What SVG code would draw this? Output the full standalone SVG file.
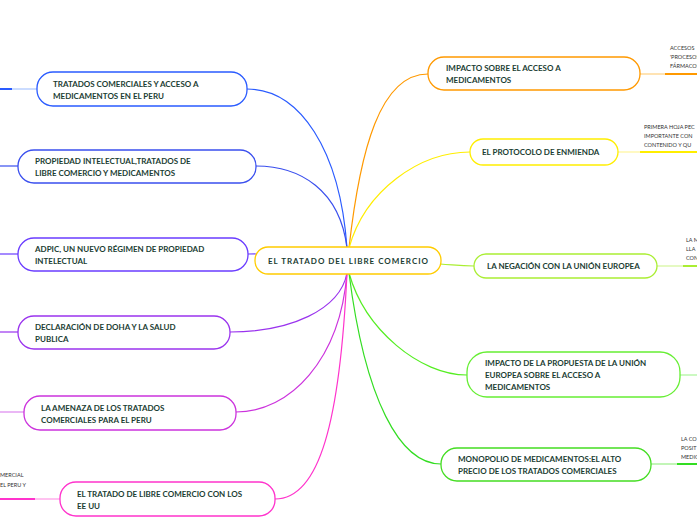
<svg xmlns="http://www.w3.org/2000/svg" width="697" height="520" viewBox="0 0 697 520">
<style>
.n{fill:#fff;stroke-width:1.3}
.t{font-family:Lato,"Liberation Sans",sans-serif;font-weight:bold;font-size:8px;fill:#1b3d33}
.s{font-family:Lato,"Liberation Sans",sans-serif;font-size:5.5px;fill:#333}
.c{fill:none;stroke-width:1.2}
</style>
<rect width="697" height="520" fill="#fff"/>
<g id="connectors">
<path class="c" stroke="#2a5bff" d="M347,248 C340,150 300,89 247,89"/>
<path class="c" stroke="#3a4fee" d="M347,248 C340,190 300,166 256,166"/>
<path class="c" stroke="#6a3cff" d="M347,250 C330,252 280,254 248,254"/>
<path class="c" stroke="#9a33ee" d="M347,273 C340,310 290,332 230,332"/>
<path class="c" stroke="#cc33dd" d="M347,273 C340,360 290,412 236,412"/>
<path class="c" stroke="#ff33cc" d="M347,273 C340,420 320,499 275,499"/>
<path class="c" stroke="#ff9900" d="M349,248 C360,150 380,74 428,74"/>
<path class="c" stroke="#ffee00" d="M349,248 C365,190 420,152 470,152"/>
<path class="c" stroke="#aaee33" d="M440,264 C455,265 460,266 474,266"/>
<path class="c" stroke="#55ee22" d="M349,273 C365,330 420,375 467,375"/>
<path class="c" stroke="#33dd22" d="M349,273 C365,400 400,464 441,464"/>
<path stroke="#a8c4ff" stroke-width="1.2" d="M12,89H37"/><path stroke="#2a5bff" stroke-width="2" d="M0,89H12"/>
<path stroke="#3a4fee" stroke-width="1.2" d="M0,166H18"/>
<path stroke="#6a3cff" stroke-width="1.2" d="M0,254H18"/>
<path stroke="#9a33ee" stroke-width="1.2" d="M0,332H18"/>
<path stroke="#dd88ee" stroke-width="1.2" d="M0,412H24"/>
<path stroke="#ff99e6" stroke-width="1.2" d="M35,499H60"/><path stroke="#ff33cc" stroke-width="2" d="M0,499H35"/>
<path stroke="#ffd080" stroke-width="1.2" d="M640,74H665"/><path stroke="#ff9900" stroke-width="2" d="M665,74H697"/>
<path stroke="#fff599" stroke-width="1.2" d="M618,152H640"/><path stroke="#ffee00" stroke-width="2" d="M640,152H697"/>
<path stroke="#d4f599" stroke-width="1.2" d="M657,266H683"/><path stroke="#aaee33" stroke-width="2" d="M683,266H697"/>
<path stroke="#aaf599" stroke-width="1.2" d="M680,375H697"/>
<path stroke="#99ee88" stroke-width="1.2" d="M651,464H677"/><path stroke="#33dd22" stroke-width="2" d="M677,464H697"/>
</g>
<g id="center"><rect class="n" x="255" y="247" width="186" height="27" rx="13" stroke="#ffcc00"/><text class="t" x="348" y="264" text-anchor="middle" font-size="10" textLength="160">EL TRATADO DEL LIBRE COMERCIO</text></g>
<g id="l1"><rect class="n" x="37" y="72" width="210" height="34" rx="16" stroke="#2a5bff"/><text class="t" x="53" y="87">TRATADOS COMERCIALES Y ACCESO A</text><text class="t" x="53" y="99">MEDICAMENTOS EN EL PERU</text></g>
<g id="l2"><rect class="n" x="18" y="150" width="238" height="33" rx="16" stroke="#3a4fee"/><text class="t" x="35" y="164">PROPIEDAD INTELECTUAL,TRATADOS DE</text><text class="t" x="35" y="176">LIBRE COMERCIO Y MEDICAMENTOS</text></g>
<g id="l3"><rect class="n" x="18" y="238" width="230" height="33" rx="16" stroke="#6a3cff"/><text class="t" x="35" y="252">ADPIC, UN NUEVO RÉGIMEN DE PROPIEDAD</text><text class="t" x="35" y="264">INTELECTUAL</text></g>
<g id="l4"><rect class="n" x="18" y="316" width="212" height="33" rx="16" stroke="#9a33ee"/><text class="t" x="35" y="330">DECLARACIÓN DE DOHA Y LA SALUD</text><text class="t" x="35" y="342">PUBLICA</text></g>
<g id="l5"><rect class="n" x="24" y="396" width="212" height="34" rx="16" stroke="#cc33dd"/><text class="t" x="41" y="411">LA AMENAZA DE LOS TRATADOS</text><text class="t" x="41" y="423">COMERCIALES PARA EL PERU</text></g>
<g id="l6"><rect class="n" x="60" y="482" width="215" height="34" rx="16" stroke="#ff33cc"/><text class="t" x="77" y="497">EL TRATADO DE LIBRE COMERCIO CON LOS</text><text class="t" x="77" y="509">EE UU</text></g>
<g id="r1"><rect class="n" x="428" y="57" width="212" height="33" rx="16" stroke="#ff9900"/><text class="t" x="446" y="71">IMPACTO SOBRE EL ACCESO A</text><text class="t" x="446" y="83">MEDICAMENTOS</text></g>
<g id="r2"><rect class="n" x="470" y="139" width="148" height="26" rx="13" stroke="#ffee00"/><text class="t" x="482" y="155">EL PROTOCOLO DE ENMIENDA</text></g>
<g id="r3"><rect class="n" x="474" y="254" width="183" height="24" rx="12" stroke="#aaee33"/><text class="t" x="487" y="269">LA NEGACIÓN CON LA UNIÓN EUROPEA</text></g>
<g id="r4"><rect class="n" x="467" y="352" width="213" height="45" rx="20" stroke="#66ee33"/><text class="t" x="485" y="366">IMPACTO DE LA PROPUESTA DE LA UNIÓN</text><text class="t" x="485" y="378">EUROPEA SOBRE EL ACCESO A</text><text class="t" x="485" y="390">MEDICAMENTOS</text></g>
<g id="r5"><rect class="n" x="441" y="448" width="210" height="33" rx="16" stroke="#44dd22"/><text class="t" x="458" y="462">MONOPOLIO DE MEDICAMENTOS:EL ALTO</text><text class="t" x="458" y="474">PRECIO DE LOS TRATADOS COMERCIALES</text></g>
<g id="notes">
<text class="s" x="670" y="50">ACCESOS</text><text class="s" x="670" y="59">'PROCESOS</text><text class="s" x="670" y="68">FÁRMACOS</text>
<text class="s" x="644" y="129">PRIMERA HOJA PEC</text><text class="s" x="644" y="138">IMPORTANTE CON</text><text class="s" x="644" y="147">CONTENIDO  Y QU</text>
<text class="s" x="686" y="242">LA M</text><text class="s" x="686" y="251">LLA</text><text class="s" x="686" y="260">CON</text>
<text class="s" x="681" y="441">LA CO</text><text class="s" x="681" y="450">POSIT</text><text class="s" x="681" y="459">MEDIC</text>
<text class="s" x="0" y="477">MERCIAL</text><text class="s" x="0" y="487">EL PERU Y</text>
</g>
</svg>
